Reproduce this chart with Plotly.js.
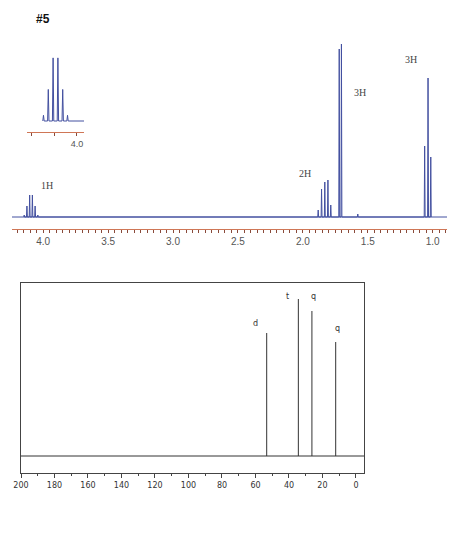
<!DOCTYPE html>
<html>
<head>
<meta charset="utf-8">
<script src="https://cdn.plot.ly/plotly-3.0.1.min.js"></script>
<style>html,body{margin:0;padding:0;background:#fff}#chart{width:474px;height:558px}</style>
</head>
<body>
<div id="chart"></div>
<script>
// ---- 1H NMR peak list (ppm, relative height) ----
const hPpm = [4.146, 4.125, 4.104, 4.083, 4.062, 4.041,
              1.882, 1.856, 1.831, 1.807, 1.785,
              1.720, 1.703, 1.577,
              1.062, 1.036, 1.015];
const hInt = [2, 11, 22, 22, 11, 2,
              7, 28, 35, 37, 12,
              168, 173, 3,
              71, 139, 60];
const hLabels = ['1H', '2H', '3H', '3H'];
const hLabelPpm = [3.97, 1.985, 1.562, 1.169];
const hLabelY = [32, 44, 125, 158];
const hTickLabels = ['4.0', '3.5', '3.0', '2.5', '2.0', '1.5', '1.0'];
const hTickVals = [4.0, 3.5, 3.0, 2.5, 2.0, 1.5, 1.0];

// ---- 13C NMR peak list ----
const cPpm = [53.3, 34.4, 26.3, 12.1];
const cInt = [123, 157, 145, 114];
const cLabels = ['d', 't', 'q', 'q'];
const cTickVals = [200, 180, 160, 140, 120, 100, 80, 60, 40, 20, 0];
const cTickLabels = ['200', '180', '160', '140', '120', '100', '80', '60', '40', '20', '0'];

// build peak line shapes from the peak lists
function spectrum(ppm, inten, w) {
  const idx = ppm.map((p, i) => i).sort((a, b) => ppm[b] - ppm[a]);
  const x = [], y = [];
  idx.forEach(i => {
    x.push(ppm[i] + w, ppm[i], ppm[i] - w);
    y.push(0, inten[i], 0);
  });
  return {x, y};
}
const hs = spectrum(hPpm, hInt, 0.0035);
const hsInset = spectrum(hPpm, hInt, 0.003);

const specColor = '#4350a0';
const traces = [
  {x: hs.x, y: hs.y, xaxis: 'x', yaxis: 'y', mode: 'lines', type: 'scatter',
   line: {color: specColor, width: 1}, hoverinfo: 'skip'},
  {x: hsInset.x, y: hsInset.y, xaxis: 'x2', yaxis: 'y2', mode: 'lines', type: 'scatter',
   line: {color: specColor, width: 1}, hoverinfo: 'skip'}
];
const cx = [], cy = [];
cPpm.forEach((p, i) => { cx.push(p, p, null); cy.push(0, cInt[i], null); });
traces.push({x: cx, y: cy, xaxis: 'x3', yaxis: 'y3', mode: 'lines', type: 'scatter',
  line: {color: '#333', width: 1}, hoverinfo: 'skip'});

const W = 474, H = 558;
const fy = p => 1 - p / H, fx = p => p / W;

const annotations = [
  {text: '<b>#5</b>', xref: 'paper', yref: 'paper', x: fx(43), y: fy(19),
   xanchor: 'center', yanchor: 'middle',
   showarrow: false, font: {family: 'Liberation Sans, Arial', size: 12, color: '#111'}}
];
hLabels.forEach((t, i) => annotations.push({
  text: t, xref: 'x', yref: 'y', x: hLabelPpm[i], y: hLabelY[i], showarrow: false,
  xanchor: 'center', yanchor: 'middle',
  font: {family: 'Liberation Serif, serif', size: 10, color: '#444'}}));
const cLabelShift = [-11, -11, 2, 2];
const cLabelY = [133, 160, 160, 128];
cLabels.forEach((t, i) => annotations.push({
  text: t, xref: 'x3', yref: 'y3', x: cPpm[i], y: cLabelY[i], xshift: cLabelShift[i],
  xanchor: 'center', yanchor: 'middle',
  showarrow: false, font: {family: 'DejaVu Sans, Verdana', size: 8, color: '#333'}}));

const shapes = [
  {type: 'line', xref: 'x domain', yref: 'y', x0: 0, x1: 1, y0: 0, y1: 0,
   line: {color: specColor, width: 1}, layer: 'below'},
  {type: 'line', xref: 'x2 domain', yref: 'y2', x0: 0, x1: 1, y0: 0, y1: 0,
   line: {color: specColor, width: 1}, layer: 'below'},
  {type: 'line', xref: 'x3 domain', yref: 'y3', x0: 0, x1: 1, y0: 0, y1: 0,
   line: {color: '#333', width: 1}, layer: 'below'}
];

const hidY = {visible: false, fixedrange: true};
const layout = {
  width: W, height: H, margin: {l: 0, r: 0, t: 0, b: 0},
  paper_bgcolor: '#fff', plot_bgcolor: '#fff', showlegend: false,
  xaxis: {domain: [fx(12), fx(447)], range: [4.24, 0.89], anchor: 'y',
    showgrid: false, zeroline: false, showline: true, linecolor: '#cf7656', linewidth: 1,
    ticks: 'outside', ticklen: 3, tickcolor: '#8a4a3a', tickwidth: 1,
    tickvals: hTickVals, ticktext: hTickLabels,
    minor: {dtick: 0.05, tick0: 0, ticks: 'outside', ticklen: 3, tickcolor: '#8a4a3a', showgrid: false},
    tickfont: {family: 'Liberation Sans, Arial', size: 10, color: '#555'}},
  yaxis: Object.assign({domain: [fy(229), fy(40)], range: [-12, 177], anchor: 'x'}, hidY),
  xaxis2: {domain: [fx(27), fx(84)], range: [4.218, 3.969], anchor: 'y2',
    showgrid: false, zeroline: false, showline: true, linecolor: '#cf7656', linewidth: 1,
    ticks: 'outside', ticklen: 3, tickcolor: '#8a4a3a',
    tickvals: [4.2, 4.1, 4.0], ticktext: ['', '', '4.0'],
    tickfont: {family: 'Liberation Sans, Arial', size: 9, color: '#555'}},
  yaxis2: Object.assign({domain: [fy(132), fy(52)], range: [-3.83, 24.05], anchor: 'x2'}, hidY),
  xaxis3: {domain: [fx(21), fx(364)], range: [200, -4.8], anchor: 'y3',
    showgrid: false, zeroline: false, showline: true, mirror: true, linecolor: '#444', linewidth: 1,
    ticks: 'outside', ticklen: 4, tickcolor: '#444',
    tickvals: cTickVals, ticktext: cTickLabels,
    minor: {dtick: 10, tick0: 0, ticks: 'outside', ticklen: 2, tickcolor: '#444', showgrid: false},
    tickfont: {family: 'DejaVu Sans, Verdana', size: 8, color: '#333'}},
  yaxis3: {domain: [fy(473), fy(283)], range: [-17, 173], anchor: 'x3',
    showgrid: false, zeroline: false, showline: true, mirror: true, linecolor: '#444', linewidth: 1,
    ticks: '', showticklabels: false, fixedrange: true},
  annotations: annotations,
  shapes: shapes
};
Plotly.newPlot('chart', traces, layout, {staticPlot: true, displayModeBar: false});
</script>
</body>
</html>
